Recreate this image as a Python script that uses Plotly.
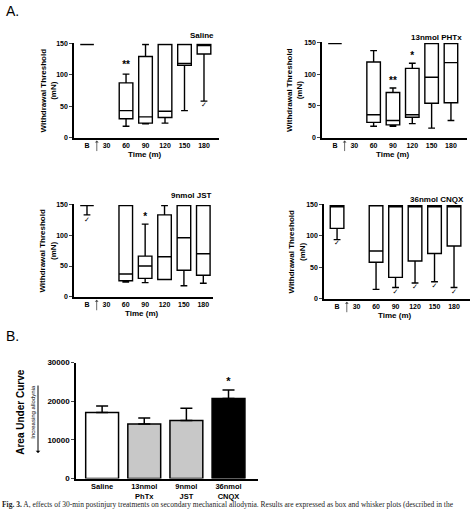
import plotly.graph_objects as go

W, H = 474, 516

times = ["B", "30", "60", "90", "120", "150", "180"]
box_pos = [0, 2, 3, 4, 5, 6]

# Saline
sal_lo = [148, 18, 22, 23, 43, 58]
sal_q1 = [148, 30, 23, 32, 115, 133]
sal_med = [148, 43, 33, 42, 118, 148]
sal_q3 = [148, 87, 129, 148, 148, 148]
sal_hi = [148, 101, 148, 148, 148, 148]
sal_out_x = [6]
sal_out_y = [51]
sal_star_x = [2]
sal_star_y = [115]
sal_star_txt = ["**"]

# 13nmol PHTx
phtx_lo = [148, 18, 18, 22, 15, 27]
phtx_q1 = [148, 24, 20, 32, 54, 55]
phtx_med = [148, 36, 27, 36, 95, 118]
phtx_q3 = [148, 119, 71, 109, 148, 148]
phtx_hi = [148, 137, 78, 117, 148, 148]
phtx_out_x = []
phtx_out_y = []
phtx_star_x = [3, 4]
phtx_star_y = [88, 128]
phtx_star_txt = ["**", "*"]

# 9nmol JST
jst_lo = [133, 24, 23, 28, 18, 22]
jst_q1 = [148, 26, 30, 28, 43, 35]
jst_med = [148, 37, 50, 65, 96, 70]
jst_q3 = [148, 148, 66, 133, 148, 148]
jst_hi = [148, 148, 118, 148, 148, 148]
jst_out_x = [0]
jst_out_y = [124]
jst_star_x = [3]
jst_star_y = [129]
jst_star_txt = ["*"]

# 36nmol CNQX
cnqx_lo = [94, 15, 18, 25, 27, 18]
cnqx_q1 = [112, 58, 34, 60, 72, 84]
cnqx_med = [148, 76, 148, 148, 148, 148]
cnqx_q3 = [148, 148, 148, 148, 148, 148]
cnqx_hi = [148, 148, 148, 148, 148, 148]
cnqx_out_x = [0, 3, 4, 5, 6]
cnqx_out_y = [89, 11, 19, 20, 11]
cnqx_star_x = []
cnqx_star_y = []
cnqx_star_txt = []

# B. area under curve
groups = ["Saline", "13nmol<br>PhTx", "9nmol<br>JST", "36nmol<br>CNQX"]
auc_mean = [17100, 14100, 15000, 20700]
auc_err = [1700, 1550, 3200, 2200]
bar_colors = ["white", "#c8c8c8", "#c8c8c8", "black"]
auc_star = ["", "", "", "*"]
auc_star_y = [None, None, None, 24900]

FONT = "Liberation Sans, Arial, sans-serif"


def px_x(v):
    return v / W


def px_y(v):
    return 1 - v / H


fig = go.Figure()

panels = [
    ("Saline", sal_lo, sal_q1, sal_med, sal_q3, sal_hi, sal_out_x, sal_out_y,
     sal_star_x, sal_star_y, sal_star_txt),
    ("13nmol PHTx", phtx_lo, phtx_q1, phtx_med, phtx_q3, phtx_hi, phtx_out_x, phtx_out_y,
     phtx_star_x, phtx_star_y, phtx_star_txt),
    ("9nmol JST", jst_lo, jst_q1, jst_med, jst_q3, jst_hi, jst_out_x, jst_out_y,
     jst_star_x, jst_star_y, jst_star_txt),
    ("36nmol CNQX", cnqx_lo, cnqx_q1, cnqx_med, cnqx_q3, cnqx_hi, cnqx_out_x, cnqx_out_y,
     cnqx_star_x, cnqx_star_y, cnqx_star_txt),
]

# pixel layout of each panel: left, right, top, bottom, x range right end
frames = [
    (74, 219, 40, 136, 6.77),
    (322, 467, 39, 136, 6.83),
    (74, 213, 204, 298, 6.5),
    (324, 470, 204, 300, 6.82),
]
title_pos = [(202, 32), (436, 34), (191, 195), (437, 199)]
ytitle_x = [48, 295, 48, 297]

for i, (name, lo, q1, med, q3, hi, ox, oy, sx, sy, st) in enumerate(panels):
    n = i + 1
    xa = "x" if n == 1 else f"x{n}"
    ya = "y" if n == 1 else f"y{n}"
    fig.add_trace(go.Box(
        x=box_pos, q1=q1, median=med, q3=q3, lowerfence=lo, upperfence=hi,
        width=0.7, whiskerwidth=0.5, boxpoints=False,
        fillcolor="white", line=dict(color="black", width=1.4),
        xaxis=xa, yaxis=ya, showlegend=False, hoverinfo="skip",
    ))
    if ox:
        fig.add_trace(go.Scatter(
            x=ox, y=oy, mode="text", text=["✓"] * len(ox),
            textfont=dict(family="DejaVu Sans", size=7, color="black"),
            xaxis=xa, yaxis=ya, showlegend=False, hoverinfo="skip",
        ))
    if sx:
        fig.add_trace(go.Scatter(
            x=sx, y=sy, mode="text", text=st,
            textfont=dict(family=FONT, size=10, color="black", weight="bold"),
            xaxis=xa, yaxis=ya, showlegend=False, hoverinfo="skip", cliponaxis=False,
        ))

    left, right, top, bottom, xmax = frames[i]
    key = "" if n == 1 else str(n)
    fig.update_layout(**{
        f"xaxis{key}": dict(
            domain=[px_x(left), px_x(right)], anchor=ya, range=[-0.67, xmax],
            tickvals=list(range(7)), ticktext=times, ticks="",
            showline=True, linecolor="black", linewidth=1.5,
            showgrid=False, zeroline=False,
            tickfont=dict(family=FONT, size=7, color="black", weight="bold"),
        ),
        f"yaxis{key}": dict(
            domain=[px_y(bottom), px_y(top)], anchor=xa, range=[0, 150],
            tickvals=[0, 50, 100, 150], ticks="outside", ticklen=3, tickwidth=1,
            showline=True, linecolor="black", linewidth=1.5,
            showgrid=False, zeroline=False,
            tickfont=dict(family=FONT, size=7, color="black", weight="bold"),
        ),
    })
    fig.add_annotation(
        x=px_x(title_pos[i][0]), y=px_y(title_pos[i][1]), xref="paper", yref="paper",
        text=name, showarrow=False, xanchor="center", yanchor="middle",
        font=dict(family=FONT, size=8, color="black", weight="bold"),
    )
    fig.add_annotation(
        x=px_x(ytitle_x[i]), y=px_y((top + bottom) / 2), xref="paper", yref="paper",
        text="Withdrawal Threshold<br>(mN)", showarrow=False, textangle=-90,
        xanchor="center", yanchor="middle",
        font=dict(family=FONT, size=8, color="black", weight="bold"),
    )
    fig.add_annotation(
        x=px_x((left + right) / 2 - 2), y=px_y(bottom + 17), xref="paper", yref="paper",
        text="Time (m)", showarrow=False, xanchor="center", yanchor="middle",
        font=dict(family=FONT, size=8, color="black", weight="bold"),
    )
    # injection arrow between B and 30
    fig.add_annotation(
        x=0.5, xref=xa, y=px_y(bottom + 3), yref="paper", text="",
        showarrow=True, ax=0, ay=12, arrowhead=1, arrowsize=0.8, arrowwidth=0.8,
        arrowcolor="#444",
    )

# B. bar chart
fig.add_trace(go.Bar(
    x=list(range(4)), y=auc_mean, width=0.78,
    marker=dict(color=bar_colors, line=dict(color="black", width=1.5)),
    error_y=dict(type="data", array=auc_err, arrayminus=[0] * 4, symmetric=False,
                 color="black", thickness=1.5, width=6),
    xaxis="x5", yaxis="y5", showlegend=False, hoverinfo="skip",
))
fig.add_trace(go.Scatter(
    x=list(range(4)), y=auc_star_y, mode="text", text=auc_star,
    textfont=dict(family=FONT, size=11, color="black", weight="bold"),
    xaxis="x5", yaxis="y5", showlegend=False, hoverinfo="skip",
))
fig.update_layout(
    xaxis5=dict(
        domain=[px_x(76), px_x(258)], anchor="y5", range=[-0.62, 3.7],
        tickvals=list(range(4)), ticktext=groups, ticks="",
        showline=True, linecolor="black", linewidth=1.5,
        showgrid=False, zeroline=False,
        tickfont=dict(family=FONT, size=7.5, color="black", weight="bold"),
    ),
    yaxis5=dict(
        domain=[px_y(483), px_y(365)], anchor="x5", range=[0, 30000],
        tickvals=[0, 10000, 20000, 30000], tickformat="d",
        ticks="outside", ticklen=3, tickwidth=1,
        showline=True, linecolor="black", linewidth=1.5,
        showgrid=False, zeroline=False,
        tickfont=dict(family=FONT, size=8, color="black", weight="bold"),
    ),
)
fig.add_annotation(
    x=px_x(21), y=px_y(416), xref="paper", yref="paper", text="Area Under Curve",
    showarrow=False, textangle=-90, xanchor="center", yanchor="middle",
    font=dict(family=FONT, size=10, color="black", weight="bold"),
)
fig.add_annotation(
    x=px_x(33), y=px_y(415), xref="paper", yref="paper", text="Increasing allodynia",
    showarrow=False, textangle=-90, xanchor="center", yanchor="middle",
    font=dict(family=FONT, size=6, color="black"),
)
fig.add_annotation(
    x=px_x(38), y=px_y(457), xref="paper", yref="paper", text="",
    showarrow=True, ax=0, ay=-69, arrowhead=1, arrowsize=0.8, arrowwidth=1,
    arrowcolor="black",
)

# panel letters and caption
fig.add_annotation(
    x=px_x(4), y=px_y(7), xref="paper", yref="paper", text="A.", showarrow=False,
    xanchor="left", yanchor="middle", font=dict(family=FONT, size=14, color="black"),
)
fig.add_annotation(
    x=px_x(4), y=px_y(338), xref="paper", yref="paper", text="B.", showarrow=False,
    xanchor="left", yanchor="middle", font=dict(family=FONT, size=14, color="black"),
)
fig.add_annotation(
    x=0, y=px_y(509), xref="paper", yref="paper",
    text="<b>Fig. 3.</b> A, effects of 30-min postinjury treatments on secondary mechanical "
         "allodynia. Results are expressed as box and whisker plots (described in the",
    showarrow=False, xanchor="left", yanchor="middle",
    font=dict(family="Liberation Serif, serif", size=7.5, color="#222"),
)

fig.update_layout(
    width=W, height=H, margin=dict(l=0, r=0, t=0, b=0),
    paper_bgcolor="white", plot_bgcolor="white",
)

fig.write_html(
    "out.html",
    config={"displayModeBar": False},
    post_script="document.body.style.margin='0';document.body.style.overflow='hidden';",
)
